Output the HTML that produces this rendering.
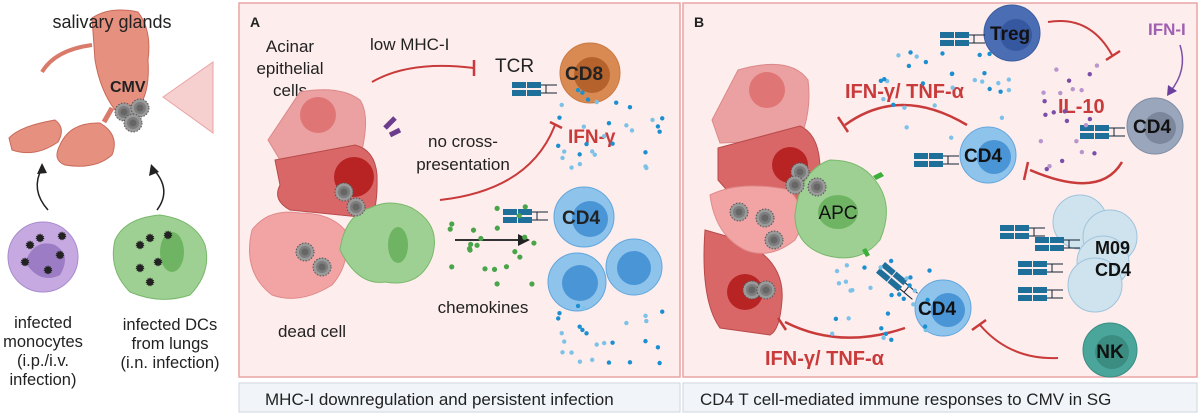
<!DOCTYPE html>
<html><head><meta charset="utf-8"><style>
body{margin:0;width:1200px;height:415px;overflow:hidden;background:#fff}
svg{display:block}
text{font-family:"Liberation Sans",sans-serif}
</style></head><body>
<svg id="s" width="1200" height="415" viewBox="0 0 1200 415" xmlns="http://www.w3.org/2000/svg">
<defs>
<g id="vir"><circle r="9" fill="#9a9a9a" stroke="#555" stroke-width="1" stroke-dasharray="1.5 1.5"/><circle r="6" fill="#7d7d7d"/><circle r="3.5" fill="#666"/></g>
<g id="tcr"><rect x="0" y="0" width="14" height="6" fill="#1e6f9a"/><rect x="15" y="0" width="14" height="6" fill="#1e6f9a"/><rect x="0" y="8" width="14" height="6" fill="#1e6f9a"/><rect x="15" y="8" width="14" height="6" fill="#1e6f9a"/><path d="M29 3H45M29 11H45M34 3V11" stroke="#123" stroke-width="1" fill="none"/></g>
</defs>
<rect x="239" y="3" width="441" height="374" fill="#fdeded" stroke="#eaa4a4" stroke-width="1.5"/>
<rect x="683" y="3" width="514" height="374" fill="#fdeded" stroke="#eaa4a4" stroke-width="1.5"/>
<rect x="239" y="383" width="441" height="29" fill="#f1f5f9" stroke="#cdd6de"/>
<rect x="683" y="383" width="514" height="29" fill="#f1f5f9" stroke="#cdd6de"/>
<text x="265" y="405" font-size="17" fill="#222">MHC-I downregulation and persistent infection</text>
<text x="700" y="405" font-size="17" fill="#222">CD4 T cell-mediated immune responses to CMV in SG</text>

<!-- left: salivary gland -->
<path d="M42 72 Q55 50 92 45" stroke="#d97a6a" stroke-width="4" fill="none"/>
<path d="M92 18 Q110 6 138 12 Q152 30 148 60 Q150 90 140 105 L115 110 Q100 90 95 60 Z" fill="#e6907f" stroke="#c96a5a"/>
<path d="M112 108 L104 122" stroke="#d97a6a" stroke-width="5"/>
<path d="M60 145 Q70 122 100 123 Q120 135 112 155 Q95 170 65 165 Q52 160 60 145Z" fill="#e6907f" stroke="#c96a5a"/>
<path d="M9 138 Q20 126 55 120 Q66 128 58 142 Q35 158 12 150 Z" fill="#e6907f" stroke="#c96a5a"/>
<text x="112" y="28" font-size="18" text-anchor="middle" fill="#222">salivary glands</text>
<text x="110" y="92" font-size="16" font-weight="bold" fill="#222">CMV</text>
<use href="#vir" x="124" y="112"/><use href="#vir" x="140" y="108"/><use href="#vir" x="133" y="123"/>
<polygon points="163,97 213,62 213,133" fill="#f6cfcf" stroke="#eaa4a4"/>
<path d="M48 210 Q30 190 42 168" stroke="#222" stroke-width="1.5" fill="none"/><polygon points="42,163 37,174 47,173" fill="#222"/>
<path d="M157 210 Q172 190 154 170" stroke="#222" stroke-width="1.5" fill="none"/><polygon points="151,164 149,176 159,172" fill="#222"/>
<circle cx="43" cy="257" r="35" fill="#c5a9e0" stroke="#a98bd0"/>
<path d="M25 262 Q35 238 55 245 Q72 255 60 275 Q40 285 25 262Z" fill="#9c7cc4"/>
<path d="M115 240 Q125 218 160 215 Q195 220 205 245 Q212 272 190 295 Q160 305 130 292 Q108 270 115 240Z" fill="#9fd093" stroke="#78b86b"/>
<ellipse cx="172" cy="252" rx="12" ry="20" fill="#6fb463"/>
<g id="spk" fill="#222"></g>
<g font-size="16.5" fill="#222" text-anchor="middle">
<text x="43" y="328">infected</text><text x="43" y="347">monocytes</text><text x="43" y="366">(i.p./i.v.</text><text x="43" y="385">infection)</text>
<text x="170" y="330">infected DCs</text><text x="170" y="349">from lungs</text><text x="170" y="368">(i.n. infection)</text>
</g>

<!-- Panel A -->
<text x="250" y="27" font-size="14" font-weight="bold" fill="#222">A</text>
<g font-size="17" fill="#222" text-anchor="middle"><text x="290" y="52">Acinar</text><text x="290" y="74">epithelial</text><text x="290" y="96">cells</text></g>
<text x="370" y="50" font-size="17" fill="#222">low MHC-I</text>
<path d="M372 82 Q410 60 474 68" stroke="#c93a3a" stroke-width="2" fill="none"/><path d="M474 60V76" stroke="#c93a3a" stroke-width="2.5"/>
<text x="495" y="72" font-size="19" fill="#222">TCR</text>
<g text-anchor="middle" font-size="17" fill="#222"><text x="463" y="147">no cross-</text><text x="463" y="170">presentation</text></g>
<path d="M440 200 Q530 190 555 125" stroke="#c93a3a" stroke-width="2" fill="none"/><path d="M550 122L562 128" stroke="#c93a3a" stroke-width="2.5"/>
<text x="568" y="143" font-size="19" font-weight="bold" fill="#c93a3a">IFN-γ</text>
<path d="M268 140 L300 92 Q340 85 360 100 Q370 115 362 150 L280 160Z" fill="#eba1a1" stroke="#d88"/>
<circle cx="318" cy="115" r="18" fill="#e07575"/>
<path d="M275 160 L355 145 Q375 150 377 175 Q378 210 370 218 L290 210 Q272 200 280 185Z" fill="#d96767" stroke="#b84a4a"/>
<circle cx="354" cy="177" r="20" fill="#b82424"/>
<path d="M385 128 L395 118 M390 135 L400 130" stroke="#6b3d8c" stroke-width="5"/>
<path d="M252 230 Q268 208 300 213 Q330 213 345 230 Q352 262 332 285 Q300 305 272 295 Q242 272 252 230Z" fill="#f2a3a3" stroke="#e08a8a"/>
<path d="M340 250 Q345 215 370 208 Q390 198 412 208 Q442 225 432 257 Q420 288 385 282 Q358 286 340 250Z" fill="#9fd093" stroke="#78b86b"/>
<ellipse cx="398" cy="245" rx="10" ry="18" fill="#6fb463"/>
<use href="#vir" x="344" y="192"/><use href="#vir" x="356" y="207"/><use href="#vir" x="305" y="252"/><use href="#vir" x="322" y="267"/>
<path d="M455 240 H520" stroke="#333" stroke-width="2"/><polygon points="530,240 518,234 518,246" fill="#222"/>
<text x="483" y="313" font-size="17" fill="#222" text-anchor="middle">chemokines</text>
<text x="312" y="337" font-size="17" fill="#222" text-anchor="middle">dead cell</text>
<circle cx="590" cy="73" r="30" fill="#d98a52" stroke="#c97a42"/><circle cx="592" cy="75" r="18" fill="#b6622c"/>
<use href="#tcr" x="512" y="82"/>
<text x="565" y="80" font-size="19" font-weight="bold" fill="#222">CD8</text>
<circle cx="584" cy="217" r="30" fill="#8ec4ec" stroke="#62a6dc"/><circle cx="590" cy="219" r="18" fill="#4a95d6"/>
<use href="#tcr" x="503" y="209"/>
<text x="562" y="224" font-size="19" font-weight="bold" fill="#222">CD4</text>
<circle cx="577" cy="282" r="29" fill="#8ec4ec" stroke="#62a6dc"/><circle cx="580" cy="283" r="18" fill="#4a95d6"/>
<circle cx="634" cy="267" r="28" fill="#8ec4ec" stroke="#62a6dc"/><circle cx="634" cy="268" r="17" fill="#4a95d6"/>

<!-- Panel B -->
<text x="694" y="27" font-size="14" font-weight="bold" fill="#222">B</text>
<path d="M712 120 L738 70 Q790 55 808 80 Q812 110 800 140 L720 143Z" fill="#eba1a1" stroke="#d88"/>
<circle cx="767" cy="90" r="18" fill="#e07575"/>
<path d="M718 148 L800 126 Q820 135 820 170 L815 200 L740 205 L718 180Z" fill="#d96767" stroke="#b84a4a"/>
<circle cx="790" cy="165" r="18" fill="#b82424"/>
<path d="M705 230 L740 240 Q785 260 782 300 Q780 330 770 335 L720 328 Q700 300 705 230Z" fill="#d96767" stroke="#b84a4a"/>
<circle cx="745" cy="292" r="18" fill="#b82424"/>
<path d="M710 195 Q740 180 790 190 Q810 215 795 240 Q770 260 745 250 Q715 235 710 195Z" fill="#f2a3a3" stroke="#e08a8a"/>
<path d="M795 215 Q800 170 830 160 Q860 160 875 180 Q895 205 880 240 Q860 265 825 255 Q795 245 795 215Z" fill="#9fd093" stroke="#78b86b"/>
<ellipse cx="838" cy="212" rx="20" ry="17" fill="#6fb463"/>
<text x="838" y="219" font-size="19" fill="#111" text-anchor="middle">APC</text>
<use href="#vir" x="800" y="172"/><use href="#vir" x="817" y="187"/><use href="#vir" x="795" y="185"/><use href="#vir" x="739" y="212"/><use href="#vir" x="765" y="218"/><use href="#vir" x="774" y="240"/><use href="#vir" x="752" y="290"/><use href="#vir" x="766" y="290"/>
<path d="M873 176 l8 -4 l3 4 l-8 4z M862 250 l4 7 l4 -2 l-4 -7z" fill="#3cae3c"/>
<circle cx="1012" cy="33" r="28" fill="#4a6db3" stroke="#3a5c9e"/><circle cx="1016" cy="35" r="16" fill="#3658a0"/>
<use href="#tcr" x="940" y="32"/>
<text x="990" y="40" font-size="19" font-weight="bold" fill="#111">Treg</text>
<text x="1148" y="35" font-size="17" font-weight="bold" fill="#a060b0">IFN-I</text>
<path d="M1180 45 Q1188 70 1170 92" stroke="#7b4fa8" stroke-width="1.5" fill="none"/><polygon points="1167,96 1168,85 1177,91" fill="#6b3fa0"/>
<path d="M1048 22 Q1090 15 1112 55" stroke="#c93a3a" stroke-width="2" fill="none"/><path d="M1106 60L1120 51" stroke="#c93a3a" stroke-width="2.5"/>
<text x="1058" y="113" font-size="20" font-weight="bold" fill="#c93a3a">IL-10</text>
<circle cx="1155" cy="126" r="28" fill="#9aa6bb" stroke="#7f8ca3"/><circle cx="1160" cy="128" r="16" fill="#7c879d"/>
<use href="#tcr" x="1080" y="125"/>
<text x="1133" y="133" font-size="19" font-weight="bold" fill="#111">CD4</text>
<path d="M1122 162 Q1100 200 1030 170" stroke="#c93a3a" stroke-width="2.5" fill="none"/><path d="M1028 162L1024 180" stroke="#c93a3a" stroke-width="2.5"/>
<path d="M967 125 Q900 85 845 125" stroke="#c93a3a" stroke-width="2.5" fill="none"/><path d="M838 117L848 132" stroke="#c93a3a" stroke-width="2.5"/>
<text x="845" y="98" font-size="20" font-weight="bold" fill="#c93a3a">IFN-γ/ TNF-α</text>
<circle cx="988" cy="155" r="28" fill="#8ec4ec" stroke="#62a6dc"/><circle cx="994" cy="157" r="17" fill="#4a95d6"/>
<use href="#tcr" x="914" y="153"/>
<text x="964" y="162" font-size="19" font-weight="bold" fill="#111">CD4</text>
<circle cx="943" cy="308" r="28" fill="#8ec4ec" stroke="#62a6dc"/><circle cx="948" cy="310" r="17" fill="#4a95d6"/>
<g transform="translate(885 262) rotate(40)"><use href="#tcr" x="0" y="0"/></g>
<text x="918" y="315" font-size="19" font-weight="bold" fill="#111">CD4</text>
<path d="M905 328 Q840 350 785 322" stroke="#c93a3a" stroke-width="2.5" fill="none"/><path d="M778 318L786 330" stroke="#c93a3a" stroke-width="2.5"/>
<text x="765" y="365" font-size="20" font-weight="bold" fill="#c93a3a">IFN-γ/ TNF-α</text>
<path d="M1058 358 Q1010 360 980 325" stroke="#c93a3a" stroke-width="2" fill="none"/><path d="M972 330L986 320" stroke="#c93a3a" stroke-width="2.5"/>
<circle cx="1080" cy="222" r="27" fill="#cfe3ef" stroke="#9fc4dc"/>
<circle cx="1110" cy="237" r="27" fill="#cfe3ef" stroke="#9fc4dc"/>
<circle cx="1103" cy="262" r="26" fill="#cfe3ef" stroke="#9fc4dc"/>
<circle cx="1095" cy="285" r="27" fill="#cfe3ef" stroke="#9fc4dc"/>
<use href="#tcr" x="1000" y="225"/><use href="#tcr" x="1035" y="237"/><use href="#tcr" x="1018" y="261"/><use href="#tcr" x="1018" y="287"/>
<text x="1095" y="254" font-size="18" font-weight="bold" fill="#111">M09</text>
<text x="1095" y="276" font-size="18" font-weight="bold" fill="#111">CD4</text>
<circle cx="1110" cy="350" r="27" fill="#4aa59a" stroke="#3a8d83"/><circle cx="1112" cy="352" r="17" fill="#3b8d82"/>
<text x="1110" y="358" font-size="19" font-weight="bold" fill="#111" text-anchor="middle">NK</text>
<g id="dots"></g>
</svg>
<script>
var d=document.getElementById('dots'),ns='http://www.w3.org/2000/svg';
function dots(n,x0,y0,w,h,c,r){for(var i=0;i<n;i++){var e=document.createElementNS(ns,'circle');var s=Math.sin(i*12.9898+x0*78.233)*43758.5453;s-=Math.floor(s);var t=Math.sin(i*4.1414+y0*3.1)*12345.678;t-=Math.floor(t);e.setAttribute('cx',x0+s*w);e.setAttribute('cy',y0+t*h);e.setAttribute('r',r);e.setAttribute('fill',c[i%c.length]);d.appendChild(e);}}
dots(30,555,90,110,80,['#1b8fd0','#7cc2e8'],2.2);
dots(25,555,305,110,65,['#1b8fd0','#7cc2e8'],2.2);
dots(22,440,205,95,90,['#4aa54a'],2.6);
dots(30,880,50,130,90,['#1b8fd0','#7cc2e8'],2.2);
dots(30,810,260,120,80,['#1b8fd0','#7cc2e8'],2.2);
dots(22,1040,65,60,110,['#7b4fa8','#b895cc'],2.2);
var sp=document.getElementById('spk');[[30,245],[40,238],[62,236],[25,262],[48,270],[60,255],[140,245],[150,238],[158,262],[140,268],[150,282],[168,235]].forEach(function(p){var e=document.createElementNS(ns,'circle');e.setAttribute('cx',p[0]);e.setAttribute('cy',p[1]);e.setAttribute('r',3.5);e.setAttribute('stroke','#222');e.setAttribute('stroke-width','1.5');e.setAttribute('stroke-dasharray','1 1');sp.appendChild(e);});
</script>
</body></html>
